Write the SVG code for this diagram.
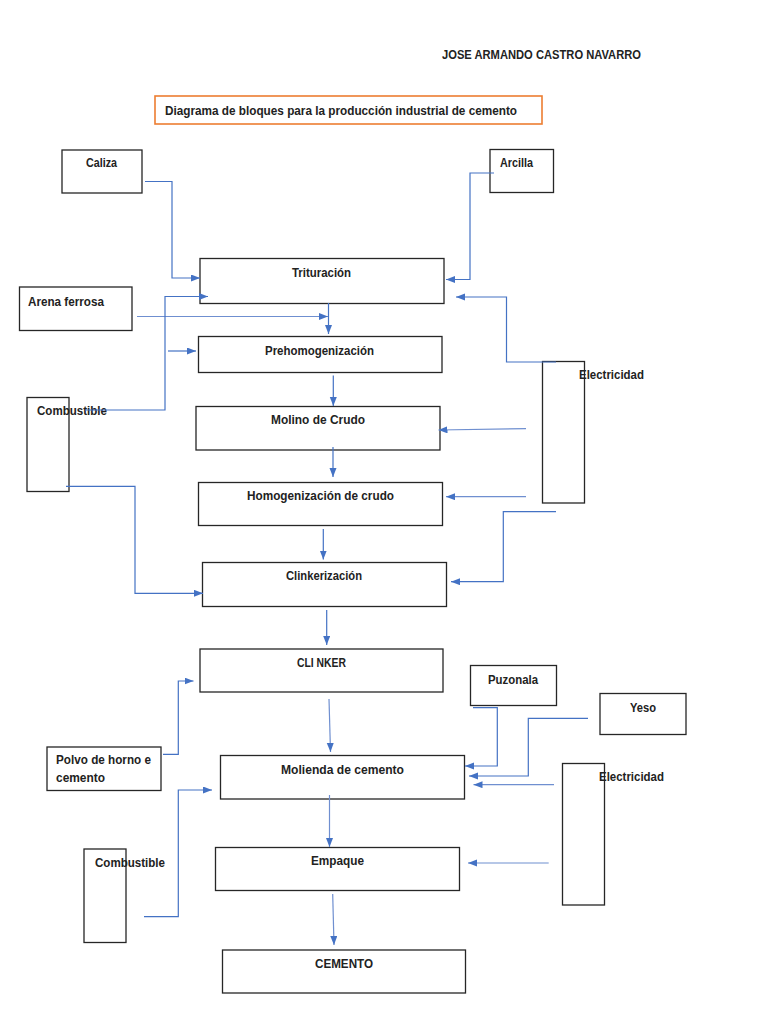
<svg xmlns="http://www.w3.org/2000/svg" width="768" height="1024" viewBox="0 0 768 1024">
<style>
.box{fill:#fff;stroke:#262626;stroke-width:1.3}
.t{font-family:"Liberation Sans",Arial,sans-serif;font-size:12.5px;font-weight:bold;fill:#222}
.c{fill:none;stroke:#4472C4;stroke-width:1.2}
.l{fill:none;stroke:#6f8fd0;stroke-width:1.2}
</style>
<defs>
<marker id="ah" markerUnits="userSpaceOnUse" markerWidth="10" markerHeight="8" refX="9" refY="3.5" orient="auto">
<path d="M0,0 L9,3.5 L0,7 z" fill="#4472C4"/>
</marker>
</defs>
<rect width="768" height="1024" fill="#fff"/>
<g id="author"><text class="t" x="442" y="59" textLength="199" lengthAdjust="spacingAndGlyphs">JOSE ARMANDO CASTRO NAVARRO</text></g>
<g id="title">
<rect x="155" y="96" width="387" height="28" fill="#fff" stroke="#ED7D31" stroke-width="1.6"/>
<text class="t" x="165" y="115" textLength="352" lengthAdjust="spacingAndGlyphs">Diagrama de bloques para la producción industrial de cemento</text>
</g>
<g id="caliza"><rect class="box" x="62" y="150" width="80" height="43"/><text class="t" x="86" y="167" textLength="31" lengthAdjust="spacingAndGlyphs">Caliza</text></g>
<g id="arcilla"><rect class="box" x="490" y="149.5" width="63.5" height="43"/><text class="t" x="500" y="167" textLength="33" lengthAdjust="spacingAndGlyphs">Arcilla</text></g>
<g id="trituracion"><rect class="box" x="200" y="258.5" width="244" height="45"/><text class="t" x="292" y="277" textLength="59" lengthAdjust="spacingAndGlyphs">Trituración</text></g>
<g id="arena"><rect class="box" x="19.5" y="287" width="112.5" height="43.5"/><text class="t" x="28" y="305.5" textLength="76" lengthAdjust="spacingAndGlyphs">Arena ferrosa</text></g>
<g id="prehomogenizacion"><rect class="box" x="198.5" y="336.5" width="243.5" height="36"/><text class="t" x="265" y="355" textLength="109" lengthAdjust="spacingAndGlyphs">Prehomogenización</text></g>
<g id="combustible1"><rect class="box" x="27" y="397.5" width="42" height="94"/><text class="t" x="37" y="415" textLength="70" lengthAdjust="spacingAndGlyphs">Combustible</text></g>
<g id="molino-crudo"><rect class="box" x="196" y="406.5" width="244" height="43.5"/><text class="t" x="271" y="424" textLength="94" lengthAdjust="spacingAndGlyphs">Molino de Crudo</text></g>
<g id="electricidad1"><rect class="box" x="542.5" y="361.5" width="42" height="141.5"/><text class="t" x="579" y="379" textLength="65" lengthAdjust="spacingAndGlyphs">Electricidad</text></g>
<g id="homogenizacion"><rect class="box" x="198.5" y="482.5" width="244" height="43"/><text class="t" x="247" y="500" textLength="147" lengthAdjust="spacingAndGlyphs">Homogenización de crudo</text></g>
<g id="clinkerizacion"><rect class="box" x="202.5" y="562.5" width="244" height="44"/><text class="t" x="286" y="580" textLength="76" lengthAdjust="spacingAndGlyphs">Clinkerización</text></g>
<g id="clinker"><rect class="box" x="200" y="649" width="243" height="43"/><text class="t" x="297" y="666.5" textLength="49" lengthAdjust="spacingAndGlyphs">CLI NKER</text></g>
<g id="puzonala"><rect class="box" x="470.5" y="665.5" width="86" height="40"/><text class="t" x="488" y="684" textLength="50" lengthAdjust="spacingAndGlyphs">Puzonala</text></g>
<g id="yeso"><rect class="box" x="600" y="693.5" width="86" height="41"/><text class="t" x="630" y="711.5" textLength="26" lengthAdjust="spacingAndGlyphs">Yeso</text></g>
<g id="polvo"><rect class="box" x="47" y="747" width="114" height="43.5"/><text class="t" x="56" y="763.5" textLength="95" lengthAdjust="spacingAndGlyphs">Polvo de horno e</text><text class="t" x="56" y="782" textLength="49" lengthAdjust="spacingAndGlyphs">cemento</text></g>
<g id="molienda"><rect class="box" x="220.5" y="755.5" width="244" height="43.5"/><text class="t" x="281" y="773.5" textLength="123" lengthAdjust="spacingAndGlyphs">Molienda de cemento</text></g>
<g id="electricidad2"><rect class="box" x="562.5" y="763.5" width="42" height="141.5"/><text class="t" x="599" y="780.5" textLength="65" lengthAdjust="spacingAndGlyphs">Electricidad</text></g>
<g id="empaque"><rect class="box" x="215.5" y="847.5" width="244" height="43"/><text class="t" x="311" y="865" textLength="53" lengthAdjust="spacingAndGlyphs">Empaque</text></g>
<g id="combustible2"><rect class="box" x="84" y="849" width="42" height="93.5"/><text class="t" x="95" y="866.5" textLength="70" lengthAdjust="spacingAndGlyphs">Combustible</text></g>
<g id="cemento"><rect class="box" x="222.5" y="950" width="243" height="43"/><text class="t" x="315" y="968" textLength="58" lengthAdjust="spacingAndGlyphs">CEMENTO</text></g>
<g id="connectors">
<path class="c" d="M145,181.5 H172 V278 H200" marker-end="url(#ah)"/>
<path class="c" d="M494,173 H470 V279.5 H446" marker-end="url(#ah)"/>
<path class="c" d="M556,362 H506.5 V297 H456" marker-end="url(#ah)"/>
<path class="l" d="M137,316.5 H328" marker-end="url(#ah)"/>
<path class="c" d="M328.5,303 V334" marker-end="url(#ah)"/>
<path class="c" d="M85,410 H165 V296.5 H208" marker-end="url(#ah)"/>
<path class="c" d="M168,351 H196" marker-end="url(#ah)"/>
<path class="c" d="M333.3,375.5 V406" marker-end="url(#ah)"/>
<path class="c" d="M333,447 V477" marker-end="url(#ah)"/>
<path class="l" d="M526,428.7 L438.5,430" marker-end="url(#ah)"/>
<path class="l" d="M526,496.7 H446" marker-end="url(#ah)"/>
<path class="c" d="M556,511.7 H503.3 V581.7 H451" marker-end="url(#ah)"/>
<path class="c" d="M323.3,529 V559.5" marker-end="url(#ah)"/>
<path class="c" d="M66,486.3 H135 V593.3 H203" marker-end="url(#ah)"/>
<path class="c" d="M326.7,610 V645" marker-end="url(#ah)"/>
<path class="c" d="M163,754.3 H178.3 V681 H193.5" marker-end="url(#ah)"/>
<path class="l" d="M329,699 L330.5,752" marker-end="url(#ah)"/>
<path class="c" d="M144,916.7 H178.3 V790 H212" marker-end="url(#ah)"/>
<path class="l" d="M329.5,795 V847" marker-end="url(#ah)"/>
<path class="l" d="M332.7,894 L334,945" marker-end="url(#ah)"/>
<path class="c" d="M473,707.7 H497.3 V766 H465" marker-end="url(#ah)"/>
<path class="c" d="M588,718.3 H528.3 V776 H469" marker-end="url(#ah)"/>
<path class="l" d="M554,784.7 H473.5" marker-end="url(#ah)"/>
<path class="l" d="M548.7,863 H468" marker-end="url(#ah)"/>
</g>
</svg>
